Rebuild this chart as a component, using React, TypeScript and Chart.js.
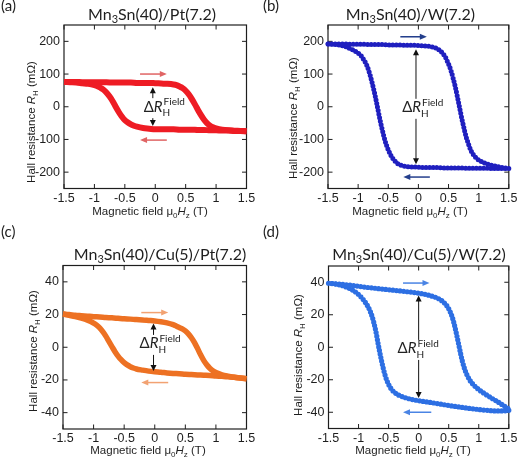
import { useEffect, useRef } from 'react';
import { Chart, registerables } from 'chart.js';

Chart.register(...registerables);

// ---- axis ticks ----
const fieldTicks = [-1.5, -1, -0.5, 0, 0.5, 1, 1.5];
const hallTicksWide = [-200, -100, 0, 100, 200];
const hallTicksNarrow = [-40, -20, 0, 20, 40];

// ---- (a) Mn3Sn(40)/Pt(7.2) ----
const fieldUpA = [-1.5, -1.4, -1.3, -1.2, -1.1, -1.0, -0.9, -0.8, -0.7, -0.6, -0.5, -0.4, -0.3, -0.2, -0.1, 0, 0.1, 0.2, 0.3, 0.35, 0.4, 0.45, 0.5, 0.55, 0.6, 0.65, 0.7, 0.75, 0.8, 0.85, 0.9, 0.95, 1.0, 1.1, 1.2, 1.3, 1.4, 1.5];
const hallUpA = [76, 76, 76, 75, 75, 75, 75, 75, 74, 74, 74, 74, 73, 73, 73, 72, 71, 70, 68, 66, 62, 57, 49, 38, 24, 8, -9, -25, -39, -50, -58, -63, -66, -70, -72, -73, -74, -75];
const fieldDownA = [1.5, 1.4, 1.3, 1.2, 1.1, 1.0, 0.9, 0.8, 0.7, 0.6, 0.5, 0.4, 0.3, 0.2, 0.1, 0, -0.1, -0.2, -0.3, -0.35, -0.4, -0.45, -0.5, -0.55, -0.6, -0.65, -0.7, -0.75, -0.8, -0.85, -0.9, -0.95, -1.0, -1.1, -1.2, -1.3, -1.4, -1.5];
const hallDownA = [-75, -74, -74, -73, -73, -72, -72, -71, -71, -70, -70, -70, -69, -69, -69, -69, -67, -65, -61, -58, -54, -48, -41, -30, -16, 0, 17, 31, 43, 52, 58, 63, 66, 70, 72, 74, 75, 76];

// ---- (b) Mn3Sn(40)/W(7.2) ----
const fieldUpB = [-1.5, -1.4, -1.3, -1.2, -1.1, -1.0, -0.9, -0.8, -0.7, -0.6, -0.5, -0.4, -0.3, -0.2, -0.1, 0, 0.1, 0.2, 0.25, 0.3, 0.325, 0.35, 0.375, 0.4, 0.425, 0.45, 0.475, 0.5, 0.525, 0.55, 0.575, 0.6, 0.625, 0.65, 0.675, 0.7, 0.725, 0.75, 0.775, 0.8, 0.825, 0.85, 0.875, 0.9, 0.925, 0.95, 0.975, 1.0, 1.05, 1.1, 1.2, 1.3, 1.4, 1.5];
const hallUpB = [192, 192, 192, 192, 191, 191, 191, 190, 190, 190, 189, 189, 189, 188, 188, 187, 186, 184, 182, 179, 176, 173, 169, 164, 158, 151, 141, 131, 119, 105, 88, 70, 50, 28, 5, -18, -40, -60, -80, -97, -111, -124, -135, -143, -150, -155, -159, -163, -168, -172, -178, -182, -186, -189];
const fieldDownB = [1.5, 1.4, 1.3, 1.2, 1.1, 1.0, 0.9, 0.8, 0.7, 0.6, 0.5, 0.4, 0.3, 0.2, 0.1, 0, -0.1, -0.2, -0.25, -0.3, -0.325, -0.35, -0.375, -0.4, -0.425, -0.45, -0.475, -0.5, -0.525, -0.55, -0.575, -0.6, -0.625, -0.65, -0.675, -0.7, -0.725, -0.75, -0.775, -0.8, -0.825, -0.85, -0.875, -0.9, -0.925, -0.95, -0.975, -1.0, -1.05, -1.1, -1.2, -1.3, -1.4, -1.5];
const hallDownB = [-189, -189, -189, -189, -188, -188, -188, -188, -187, -187, -187, -187, -186, -186, -186, -185, -184, -183, -181, -178, -176, -173, -169, -164, -158, -151, -142, -132, -120, -106, -89, -70, -50, -28, -5, 18, 40, 60, 79, 96, 111, 124, 134, 142, 149, 156, 160, 164, 170, 175, 183, 188, 191, 192];

// ---- (c) Mn3Sn(40)/Cu(5)/Pt(7.2) ----
const fieldUpC = [-1.5, -1.4, -1.3, -1.2, -1.1, -1.0, -0.9, -0.8, -0.7, -0.6, -0.5, -0.4, -0.3, -0.2, -0.1, 0, 0.1, 0.2, 0.3, 0.35, 0.4, 0.45, 0.5, 0.55, 0.6, 0.65, 0.7, 0.75, 0.8, 0.85, 0.9, 0.95, 1.0, 1.1, 1.2, 1.3, 1.4, 1.5];
const hallUpC = [20.3, 20.0, 19.6, 19.3, 19.0, 18.7, 18.5, 18.2, 18.0, 17.7, 17.4, 17.2, 16.9, 16.7, 16.4, 16.1, 15.6, 14.9, 13.8, 13.0, 12.1, 11.2, 10.0, 8.2, 5.8, 2.8, -0.8, -4.6, -8.0, -10.7, -12.8, -14.4, -15.5, -16.9, -17.7, -18.3, -18.8, -19.2];
const fieldDownC = [1.5, 1.4, 1.3, 1.2, 1.1, 1.0, 0.9, 0.8, 0.7, 0.6, 0.5, 0.4, 0.3, 0.2, 0.1, 0, -0.1, -0.2, -0.3, -0.35, -0.4, -0.45, -0.5, -0.55, -0.6, -0.65, -0.7, -0.75, -0.8, -0.85, -0.9, -0.95, -1.0, -1.1, -1.2, -1.3, -1.4, -1.5];
const hallDownC = [-19.2, -18.8, -18.4, -18.1, -17.8, -17.6, -17.3, -17.1, -16.9, -16.7, -16.5, -16.2, -16.0, -15.7, -15.3, -15.0, -14.6, -14.0, -13.3, -12.7, -11.9, -10.8, -9.4, -7.6, -5.4, -2.7, 0.4, 3.6, 6.8, 9.6, 11.8, 13.5, 14.8, 16.6, 17.8, 18.7, 19.5, 20.3];

// ---- (d) Mn3Sn(40)/Cu(5)/W(7.2) ----
const fieldUpD = [-1.5, -1.4, -1.3, -1.2, -1.1, -1.0, -0.9, -0.8, -0.7, -0.6, -0.5, -0.4, -0.3, -0.2, -0.1, 0, 0.1, 0.2, 0.25, 0.3, 0.325, 0.35, 0.375, 0.4, 0.425, 0.45, 0.475, 0.5, 0.525, 0.55, 0.575, 0.6, 0.625, 0.65, 0.675, 0.7, 0.725, 0.75, 0.775, 0.8, 0.825, 0.85, 0.875, 0.9, 0.925, 0.95, 0.975, 1.0, 1.05, 1.1, 1.2, 1.3, 1.4, 1.5];
const hallUpD = [39.4, 39.1, 38.8, 38.4, 38.0, 37.5, 37.0, 36.6, 36.2, 35.8, 35.4, 35.0, 34.6, 34.2, 33.8, 33.3, 32.6, 31.7, 31.1, 30.5, 30.0, 29.5, 28.9, 28.2, 27.4, 26.4, 25.2, 23.7, 21.8, 19.5, 16.6, 13.0, 9.0, 4.6, 0.2, -4.2, -8.2, -11.6, -14.4, -16.7, -18.6, -20.2, -21.5, -22.6, -23.6, -24.5, -25.3, -26.0, -27.4, -28.6, -31.0, -33.2, -35.6, -38.0];
const fieldDownD = [1.5, 1.4, 1.3, 1.2, 1.1, 1.0, 0.9, 0.8, 0.7, 0.6, 0.5, 0.4, 0.3, 0.2, 0.1, 0, -0.1, -0.2, -0.25, -0.3, -0.325, -0.35, -0.375, -0.4, -0.425, -0.45, -0.475, -0.5, -0.525, -0.55, -0.575, -0.6, -0.625, -0.65, -0.675, -0.7, -0.725, -0.75, -0.775, -0.8, -0.825, -0.85, -0.875, -0.9, -0.925, -0.95, -0.975, -1.0, -1.05, -1.1, -1.2, -1.3, -1.4, -1.5];
const hallDownD = [-38.8, -39.2, -39.2, -39.0, -38.7, -38.3, -37.9, -37.4, -36.9, -36.4, -35.8, -35.2, -34.6, -34.0, -33.5, -32.9, -32.2, -31.3, -30.7, -30.0, -29.6, -29.1, -28.5, -27.8, -27.0, -25.9, -24.6, -22.9, -20.8, -18.2, -15.0, -11.2, -7.0, -2.5, 2.2, 7.5, 12.0, 15.8, 19.0, 21.6, 23.7, 25.5, 27.0, 28.3, 29.5, 30.6, 31.6, 32.5, 34.0, 35.2, 37.0, 38.2, 39.0, 39.4];

const ARIAL = "'Liberation Sans', Arial, sans-serif";
const CALIBRI = "Lato, 'Open Sans', sans-serif";
const INK = '#1e1e1e';

type Sweep = { x1: number; x2: number; y: number };
type Panel = {
  id: string;
  titleRest: string;
  canvas: { left: number; top: number; w: number; h: number };
  area: { l: number; t: number; r: number; b: number };
  yRange: [number, number];
  yTicks: number[];
  up: [number[], number[]];
  down: [number[], number[]];
  color: string;
  dotted: boolean;
  lineWidth: number;
  sweepColor: string;
  sweepUp: Sweep;
  sweepDown: Sweep;
  delta: { x: number; top: number; bottom: number; labelX: number; labelY: number };
  letter: [number, number];
  title: [number, number];
  xTitle: [number, number];
  yTitle: [number, number];
};

const panels: Panel[] = [
  {
    id: 'a', titleRest: 'Sn(40)/Pt(7.2)',
    canvas: { left: 0, top: 0, w: 260, h: 232 },
    area: { l: 64, t: 25, r: 246.5, b: 188.5 },
    yRange: [-250, 250], yTicks: hallTicksWide,
    up: [fieldUpA, hallUpA], down: [fieldDownA, hallDownA],
    color: '#ee1c24', dotted: false, lineWidth: 6,
    sweepColor: '#e06464',
    sweepUp: { x1: -0.25, x2: 0.19, y: 100 }, sweepDown: { x1: 0.19, x2: -0.25, y: -102 },
    delta: { x: -0.04, top: 60, bottom: -59, labelX: -0.19, labelY: -15 },
    letter: [1, 11], title: [152, 19.5], xTitle: [150, 215], yTitle: [35, 122],
  },
  {
    id: 'b', titleRest: 'Sn(40)/W(7.2)',
    canvas: { left: 260, top: 0, w: 260, h: 232 },
    area: { l: 68, t: 25, r: 250.5, b: 188.5 },
    yRange: [-250, 250], yTicks: hallTicksWide,
    up: [fieldUpB, hallUpB], down: [fieldDownB, hallDownB],
    color: '#1f1fbf', dotted: true, lineWidth: 5,
    sweepColor: '#243f8c',
    sweepUp: { x1: -0.3, x2: 0.14, y: 214 }, sweepDown: { x1: 0.19, x2: -0.25, y: -215 },
    delta: { x: -0.04, top: 176, bottom: -176, labelX: -0.27, labelY: -17 },
    letter: [263, 11], title: [410.5, 19.5], xTitle: [410, 215], yTitle: [297, 118],
  },
  {
    id: 'c', titleRest: 'Sn(40)/Cu(5)/Pt(7.2)',
    canvas: { left: 0, top: 232, w: 260, h: 231 },
    area: { l: 63, t: 33.5, r: 246.5, b: 197 },
    yRange: [-50, 50], yTicks: hallTicksNarrow,
    up: [fieldUpC, hallUpC], down: [fieldDownC, hallDownC],
    color: '#ed7123', dotted: false, lineWidth: 5.5,
    sweepColor: '#f2a272',
    sweepUp: { x1: -0.22, x2: 0.22, y: 21.2 }, sweepDown: { x1: 0.22, x2: -0.22, y: -21.6 },
    delta: { x: -0.02, top: 14.5, bottom: -14.5, labelX: -0.25, labelY: -0.7 },
    letter: [1, 237], title: [160, 260], xTitle: [148, 454], yTitle: [37, 351],
  },
  {
    id: 'd', titleRest: 'Sn(40)/Cu(5)/W(7.2)',
    canvas: { left: 260, top: 232, w: 260, h: 231 },
    area: { l: 68.5, t: 34, r: 249.5, b: 196.5 },
    yRange: [-50, 50], yTicks: hallTicksNarrow,
    up: [fieldUpD, hallUpD], down: [fieldDownD, hallDownD],
    color: '#2d6fe3', dotted: true, lineWidth: 5.2,
    sweepColor: '#4a84e4',
    sweepUp: { x1: -0.26, x2: 0.18, y: 39.5 }, sweepDown: { x1: 0.21, x2: -0.26, y: -40 },
    delta: { x: 0, top: 31.8, bottom: -31.2, labelX: -0.35, labelY: -3.8 },
    letter: [263, 237], title: [419, 260], xTitle: [413, 454], yTitle: [302, 355],
  },
];

function toPoints(xs: number[], ys: number[]) {
  return xs.map((x, i) => ({ x, y: ys[i] }));
}

function arrowHead(ctx: CanvasRenderingContext2D, x: number, y: number, dx: number, dy: number, len: number, half: number) {
  ctx.beginPath();
  ctx.moveTo(x, y);
  ctx.lineTo(x - dx * len - dy * half, y - dy * len + dx * half);
  ctx.lineTo(x - dx * len + dy * half, y - dy * len - dx * half);
  ctx.closePath();
  ctx.fill();
}

// Frame with inward ticks on all four sides, sweep-direction arrows and the ΔR marker.
function decorations(p: Panel) {
  return {
    id: 'decorations' + p.id,
    beforeDatasetsDraw(chart: any) {
      const { ctx, chartArea } = chart;
      const { left, right, top, bottom } = chartArea;
      const xs = chart.scales.x;
      const ys = chart.scales.y;
      ctx.save();
      ctx.strokeStyle = INK;
      ctx.lineWidth = 1.2;
      ctx.strokeRect(left, top, right - left, bottom - top);
      ctx.beginPath();
      const tl = 4.5;
      xs.ticks.forEach((t: any) => {
        const px = xs.getPixelForValue(t.value);
        ctx.moveTo(px, bottom); ctx.lineTo(px, bottom - tl);
        ctx.moveTo(px, top); ctx.lineTo(px, top + tl);
      });
      ys.ticks.forEach((t: any) => {
        const py = ys.getPixelForValue(t.value);
        ctx.moveTo(left, py); ctx.lineTo(left + tl, py);
        ctx.moveTo(right, py); ctx.lineTo(right - tl, py);
      });
      ctx.lineWidth = 1;
      ctx.stroke();
      ctx.restore();
    },
    afterDatasetsDraw(chart: any) {
      const { ctx } = chart;
      const xs = chart.scales.x;
      const ys = chart.scales.y;
      ctx.save();

      // sweep direction arrows
      ctx.strokeStyle = p.sweepColor;
      ctx.fillStyle = p.sweepColor;
      ctx.lineWidth = 1.5;
      [p.sweepUp, p.sweepDown].forEach((s) => {
        const a = xs.getPixelForValue(s.x1);
        const b = xs.getPixelForValue(s.x2);
        const y = ys.getPixelForValue(s.y);
        const dir = Math.sign(b - a);
        ctx.beginPath();
        ctx.moveTo(a, y);
        ctx.lineTo(b - dir * 5, y);
        ctx.stroke();
        arrowHead(ctx, b, y, dir, 0, 7, 3);
      });

      // ΔR double arrow
      const d = p.delta;
      const ax = xs.getPixelForValue(d.x);
      const yTop = ys.getPixelForValue(d.top);
      const yBot = ys.getPixelForValue(d.bottom);
      ctx.strokeStyle = '#111';
      ctx.fillStyle = '#111';
      ctx.lineWidth = 1;
      ctx.beginPath();
      ctx.moveTo(ax, yTop + 4);
      ctx.lineTo(ax, yBot - 4);
      ctx.stroke();
      arrowHead(ctx, ax, yTop, 0, -1, 6, 3);
      arrowHead(ctx, ax, yBot, 0, 1, 6, 3);

      // ΔR_H^Field label
      const lx = xs.getPixelForValue(d.labelX);
      const ly = ys.getPixelForValue(d.labelY);
      const main = `15px ${CALIBRI}`;
      const mainIt = `italic 15px ${CALIBRI}`;
      const small = `10px ${CALIBRI}`;
      ctx.font = main;
      const wDelta = ctx.measureText('Δ').width;
      ctx.font = mainIt;
      const wR = ctx.measureText('R').width;
      ctx.font = small;
      const wField = ctx.measureText('Field').width;
      const wH = ctx.measureText('H').width;
      const total = wDelta + wR + 1 + Math.max(wField, wH);
      ctx.fillStyle = '#fff';
      ctx.fillRect(lx - 1, ly - 13.5, total + 2, 20);
      ctx.fillStyle = '#222';
      ctx.textBaseline = 'alphabetic';
      ctx.textAlign = 'left';
      ctx.font = main;
      ctx.fillText('Δ', lx, ly);
      ctx.font = mainIt;
      ctx.fillText('R', lx + wDelta, ly);
      ctx.font = small;
      ctx.fillText('Field', lx + wDelta + wR + 1, ly - 6.5);
      ctx.fillText('H', lx + wDelta + wR, ly + 4.8);
      ctx.restore();
    },
  };
}

function PanelChart({ p }: { p: Panel }) {
  const ref = useRef<HTMLCanvasElement>(null);
  useEffect(() => {
    const { w, h } = p.canvas;
    const { l, t, r, b } = p.area;
    const tickFont = { family: ARIAL, size: 12.5 };
    const series = (pts: { x: number; y: number }[]) => ({
      data: pts,
      borderColor: p.color,
      backgroundColor: p.color,
      borderWidth: p.lineWidth,
      borderDash: p.dotted ? [0, 3.6] : [],
      borderCapStyle: p.dotted ? 'round' : 'butt',
      borderJoinStyle: 'round',
      pointRadius: 0,
      cubicInterpolationMode: 'monotone',
      clip: 6,
    });
    const chart = new Chart(ref.current!, {
      type: 'line',
      data: {
        datasets: [series(toPoints(p.up[0], p.up[1])), series(toPoints(p.down[0], p.down[1]))] as any,
      },
      options: {
        responsive: false,
        animation: false,
        layout: { padding: { left: 0, top: t, right: w - r, bottom: 0 } },
        plugins: { legend: { display: false }, tooltip: { enabled: false } },
        scales: {
          x: {
            type: 'linear',
            min: -1.5,
            max: 1.5,
            grid: { display: false, drawTicks: false },
            border: { display: false },
            ticks: { font: tickFont, color: INK, padding: 2.5, maxRotation: 0, autoSkip: false, callback: (v: any) => String(v) },
            afterBuildTicks: (s: any) => { s.ticks = fieldTicks.map((value) => ({ value })); },
            afterFit: (s: any) => { s.height = h - b; },
          },
          y: {
            type: 'linear',
            min: p.yRange[0],
            max: p.yRange[1],
            grid: { display: false, drawTicks: false },
            border: { display: false },
            ticks: { font: tickFont, color: INK, padding: 4, autoSkip: false, callback: (v: any) => String(v) },
            afterBuildTicks: (s: any) => { s.ticks = p.yTicks.map((value) => ({ value })); },
            afterFit: (s: any) => { s.width = l; },
          },
        },
      } as any,
      plugins: [decorations(p)],
    });
    return () => chart.destroy();
  }, [p]);
  return (
    <canvas
      ref={ref}
      width={p.canvas.w}
      height={p.canvas.h}
      style={{ position: 'absolute', left: p.canvas.left, top: p.canvas.top, display: 'block' }}
    />
  );
}

export default function App() {
  return (
    <div style={{ position: 'fixed', left: 0, top: 0, width: 520, height: 463, background: '#fff', overflow: 'hidden' }}>
      {panels.map((p) => (
        <PanelChart key={p.id} p={p} />
      ))}
      <svg width={520} height={463} style={{ position: 'absolute', left: 0, top: 0, pointerEvents: 'none', whiteSpace: 'pre' }}>
        {panels.map((p) => (
          <g key={p.id} fill={INK}>
            <text x={p.letter[0]} y={p.letter[1]} fontFamily={CALIBRI} fontSize={15}>({p.id})</text>
            <text x={p.title[0]} y={p.title[1]} textAnchor="middle" fontFamily={CALIBRI} fontSize={16}>
              Mn<tspan fontSize={11} dy={3}>3</tspan><tspan dy={-3}>{p.titleRest}</tspan>
            </text>
            <text x={p.xTitle[0]} y={p.xTitle[1]} textAnchor="middle" fontFamily={ARIAL} fontSize={11.5}>
              {'Magnetic field μ'}<tspan fontSize={8} dy={2.5}>0</tspan><tspan dy={-2.5} fontStyle="italic">H</tspan><tspan fontSize={8} dy={2.5}>z</tspan><tspan dy={-2.5}>{' (T)'}</tspan>
            </text>
            <text transform={`translate(${p.yTitle[0]},${p.yTitle[1]}) rotate(-90)`} textAnchor="middle" fontFamily={ARIAL} fontSize={11.5}>
              {'Hall resistance '}<tspan fontStyle="italic">R</tspan><tspan fontSize={8} dy={2.5}>H</tspan><tspan dy={-2.5}>{' (mΩ)'}</tspan>
            </text>
          </g>
        ))}
      </svg>
    </div>
  );
}
